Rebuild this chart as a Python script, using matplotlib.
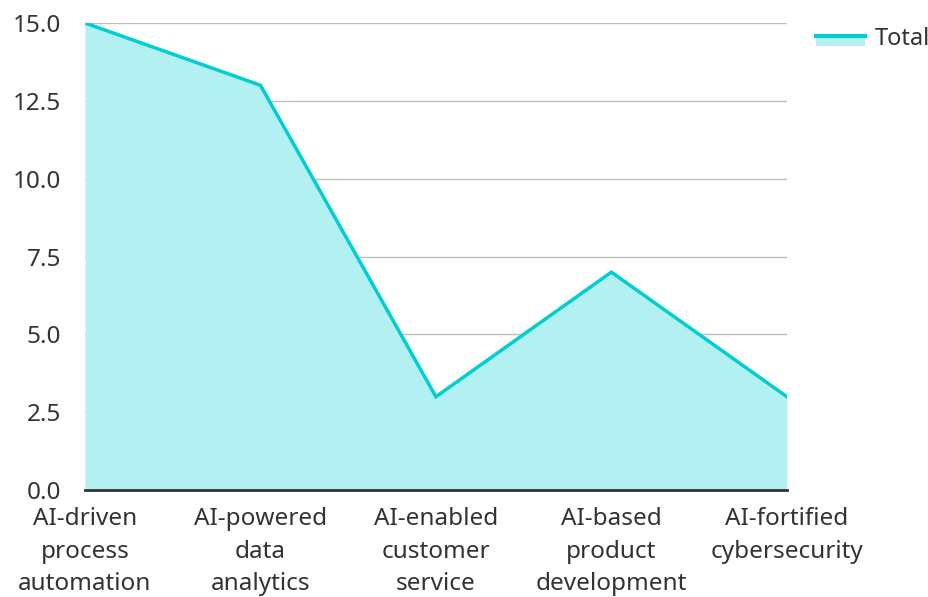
import matplotlib
matplotlib.use("Agg")
import matplotlib.pyplot as plt
from matplotlib.patches import Rectangle
from matplotlib.lines import Line2D
from matplotlib.legend_handler import HandlerBase

plt.rcParams['font.family'] = ['Noto Sans', 'DejaVu Sans']

# Data
categories = ["AI-driven\nprocess\nautomation", "AI-powered\ndata\nanalytics",
              "AI-enabled\ncustomer\nservice", "AI-based\nproduct\ndevelopment",
              "AI-fortified\ncybersecurity"]
totals = [15, 13, 3, 7, 3]
yticks = [0.0, 2.5, 5.0, 7.5, 10.0, 12.5, 15.0]

line_color = "#00CED1"
fill_color = "#B3F0F1"

fig = plt.figure(figsize=(9.29, 5.97), dpi=100)
ax = fig.add_axes([0.0915, 0.179, 0.7555, 0.7825])

x = list(range(len(categories)))
ax.fill_between(x, totals, 0, color=fill_color, linewidth=0, zorder=2)
ax.plot(x, totals, color=line_color, linewidth=2.5, zorder=3, solid_joinstyle='miter')

ax.set_xlim(0, len(categories) - 1)
ax.set_ylim(0, 15)
ax.set_yticks(yticks)
ax.set_yticklabels([f"{v:.1f}" for v in yticks])
ax.set_xticks(x)
ax.set_xticklabels(categories, linespacing=1.47)

ax.grid(axis='y', color='#bdbdbd', linewidth=1, zorder=1)
ax.set_axisbelow(True)
for s in ['top', 'right', 'left']:
    ax.spines[s].set_visible(False)
ax.spines['bottom'].set_color('#333333')
ax.spines['bottom'].set_linewidth(2)
ax.spines['bottom'].set_zorder(4)
ax.tick_params(axis='both', length=0, labelsize=17.5, labelcolor='#333333')
ax.tick_params(axis='x', pad=12.5)
ax.tick_params(axis='y', pad=17)


class AreaHandler(HandlerBase):
    def create_artists(self, legend, orig, xdescent, ydescent, width, height, fontsize, trans):
        r = Rectangle((-xdescent, -ydescent), width, height * 0.55,
                      facecolor=fill_color, edgecolor='none', transform=trans)
        ln = Line2D([-xdescent, -xdescent + width], [-ydescent + height * 0.55] * 2,
                    color=line_color, linewidth=3, transform=trans)
        return [r, ln]


proxy = Rectangle((0, 0), 1, 1)
fig.legend([proxy], ["Total"], handler_map={Rectangle: AreaHandler()},
           loc='upper left', bbox_to_anchor=(0.855, 0.99), frameon=False,
           fontsize=17, handlelength=2.1, handleheight=0.8, handletextpad=0.4,
           labelcolor='#333333')

fig.savefig("out.png", dpi=100)
